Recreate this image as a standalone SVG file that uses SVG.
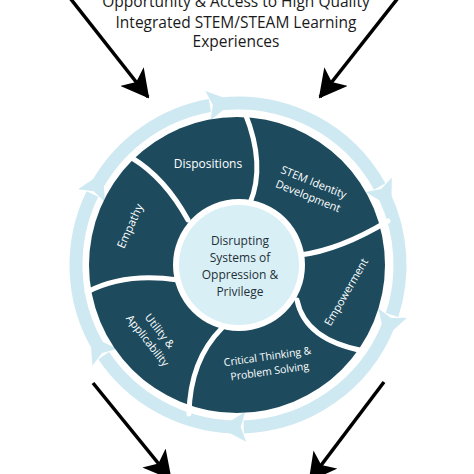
<svg xmlns="http://www.w3.org/2000/svg" width="474" height="474" viewBox="0 0 474 474">
<style>
.title{font-family:"Open Sans","Liberation Sans",sans-serif;font-size:15.5px;fill:#1a1a1a;text-anchor:middle}
.seg{font-family:"Open Sans","Liberation Sans",sans-serif;font-size:11px;fill:#ffffff;text-anchor:middle}
.ctr{font-family:"Open Sans","Liberation Sans",sans-serif;font-size:12px;fill:#1f2f36;text-anchor:middle}
.sep{fill:none;stroke:#ffffff;stroke-width:5;stroke-linecap:round}
.ring{fill:none;stroke:#cfe9f2;stroke-width:13}
.blk{fill:none;stroke:#000000;stroke-width:3.5}
</style>
<defs>
<marker id="ringHead" markerUnits="userSpaceOnUse" viewBox="0 0 26 30" markerWidth="26" markerHeight="30" refX="2" refY="15" orient="auto">
<path d="M0,0 L26,15 L0,30 L5,15 z" fill="#cfe9f2"/>
</marker>
<marker id="blkHead" markerUnits="userSpaceOnUse" viewBox="0 0 28 30" markerWidth="28" markerHeight="30" refX="26" refY="15" orient="auto">
<path d="M0,0 L28,15 L0,30 L7,15 z" fill="#000000"/>
</marker>
</defs>
<rect width="474" height="474" fill="#ffffff"/>

<g id="title">
<text class="title" x="236" y="7">Opportunity &amp; Access to High Quality</text>
<text class="title" x="236" y="27.5">Integrated STEM/STEAM Learning</text>
<text class="title" x="236" y="47">Experiences</text>
</g>

<g id="cycle-ring">
<path class="ring" d="M97.7,184 A162,162 0 0 1 209.9,105.5" marker-end="url(#ringHead)"/>
<path class="ring" d="M221.1,103.9 A162,162 0 0 1 379.7,186.5" marker-end="url(#ringHead)"/>
<path class="ring" d="M384.8,196.5 A162,162 0 0 1 392.1,315.1" marker-end="url(#ringHead)"/>
<path class="ring" d="M388.2,325.7 A162,162 0 0 1 243.7,426.9" marker-end="url(#ringHead)"/>
<path class="ring" d="M232.3,426.9 A162,162 0 0 1 103.7,355.6" marker-end="url(#ringHead)"/>
<path class="ring" d="M97.7,346 A162,162 0 0 1 92.4,194" marker-end="url(#ringHead)"/>
</g>

<g id="wheel">
<circle cx="237" cy="265" r="148" fill="#1d4b5d"/>
<path class="sep" d="M132,158 Q165,178 188,220"/>
<path class="sep" d="M245,113 Q266,165 250,203"/>
<path class="sep" d="M300,255 Q340,250 388,221"/>
<path class="sep" d="M297,300 Q305,340 364,351"/>
<path class="sep" d="M222,328 Q190,360 189,414"/>
<path class="sep" d="M178,280 Q125,272 87,292"/>
</g>

<g id="dispositions">
<text class="seg" x="208" y="168" style="font-size:12px">Dispositions</text>
</g>
<g id="stem-identity" transform="translate(311,189) rotate(22)">
<text class="seg" x="0" y="-3.5">STEM Identity</text>
<text class="seg" x="0" y="11.5">Development</text>
</g>
<g id="empowerment" transform="translate(346,292) rotate(-60)">
<text class="seg" x="0" y="4">Empowerment</text>
</g>
<g id="critical-thinking" transform="translate(269,367) rotate(-8)">
<text class="seg" x="0" y="-7" style="font-size:10.5px">Critical Thinking &amp;</text>
<text class="seg" x="0" y="8" style="font-size:10.5px">Problem Solving</text>
</g>
<g id="utility" transform="translate(154,335.5) rotate(52)">
<text class="seg" x="0" y="-3.5">Utility &amp;</text>
<text class="seg" x="0" y="12">Applicability</text>
</g>
<g id="empathy" transform="translate(130,226) rotate(-66)">
<text class="seg" x="0" y="4" style="font-size:11.5px">Empathy</text>
</g>

<g id="center">
<circle cx="239" cy="265" r="66" fill="#ffffff"/>
<circle cx="239" cy="265" r="60" fill="#d9eff6"/>
<text class="ctr" x="240" y="245">Disrupting</text>
<text class="ctr" x="240" y="262">Systems of</text>
<text class="ctr" x="240" y="279">Oppression &amp;</text>
<text class="ctr" x="240" y="296">Privilege</text>
</g>

<g id="connectors">
<path class="blk" d="M70,-2 L148,97" marker-end="url(#blkHead)"/>
<path class="blk" d="M398,-2 L320,97" marker-end="url(#blkHead)"/>
<path class="blk" d="M93,383 L170.4,478.2" marker-end="url(#blkHead)"/>
<path class="blk" d="M384,382 L309.8,480.2" marker-end="url(#blkHead)"/>
</g>
</svg>
